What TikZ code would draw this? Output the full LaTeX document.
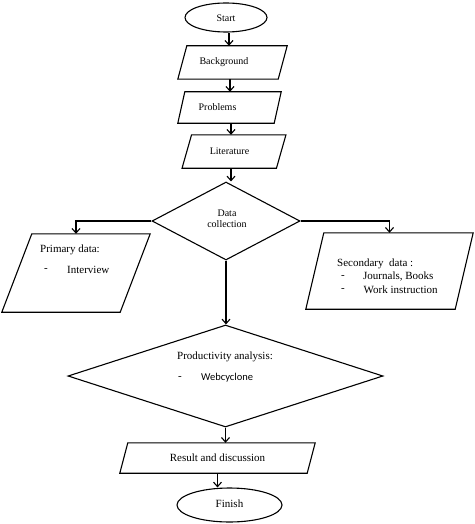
\documentclass[tikz,border=0pt]{standalone}
\usepackage{fontspec}
\setmainfont{Liberation Serif}
\newfontfamily\calfont{Carlito}
\usetikzlibrary{shapes.geometric,arrows.meta,calc}
\begin{document}
\begin{tikzpicture}[x=1pt,y=-1pt,
  line/.style={line width=1.1pt,black},
  arr/.style={line,-{Straight Barb[length=4.5pt,width=8pt,line width=1.1pt]}},
  hold/.style={draw=none,rectangle,inner sep=0pt,minimum width=1pt},
  ell/.style={line,draw,ellipse,inner sep=0pt},
  dia/.style={line,draw,diamond,inner sep=0pt},
  sm/.style={font=\fontsize{10}{11}\selectfont,inner sep=0pt,align=center},
  md/.style={font=\fontsize{11}{12}\selectfont,inner sep=0pt,align=center},
]
\useasboundingbox (0,0) rectangle (474,524);
\fill[white] (0,0) rectangle (474,524);
\coordinate (ax) at (229,0);
% terminals
\node[ell,minimum width=82,minimum height=29] (st) at (226,17.5) {};
\node[ell,minimum width=105,minimum height=34] (fin) at (229.5,505) {};
% parallelogram holders: (name) centre, width at mid-height, height
\node[hold,minimum width=100,minimum height=33] (bg) at (232.5,62.5) {};
\node[hold,minimum width=96,minimum height=31] (pb) at (229.5,107.5) {};
\node[hold,minimum width=94,minimum height=33] (lit) at (234,151.5) {};
\node[hold,minimum width=118,minimum height=78] (pri) at (76,273) {};
\node[hold,minimum width=149,minimum height=76] (sec) at (389.5,271) {};
\node[hold,minimum width=187,minimum height=30] (res) at (217.5,458) {};
\foreach \n/\s in {bg/9,pb/7,lit/9.5,pri/30,sec/18,res/8}{
  \draw[line] ([xshift=-\s/2]\n.south west) -- ([xshift=\s/2]\n.north west)
     -- ([xshift=\s/2]\n.north east) -- ([xshift=-\s/2]\n.south east) -- cycle;
}
% decisions
\node[dia,minimum width=148,minimum height=78] (dc) at (226,221) {};
\node[dia,minimum width=315,minimum height=102] (pa) at (225.5,376) {};
% texts
\node[sm] (tst) at (226,18) {Start};
\node[sm] (tbg) at (224,62) {Background};
\node[sm] (tpb) at (217.5,107) {Problems};
\node[sm] (tlit) at (229.5,151) {Literature};
\node[sm] (tdc) at (227,218.5) {Data\\collection};
\node[md,anchor=west] (tpri) at (40,250) {Primary data:};
\node[md] (tprid) at (46,270) {-};
\node[md,anchor=west] (tpri2) at (67,270) {Interview};
\node[md,anchor=west] (tsec) at (337,264) {Secondary\ \ data :};
\node[md] (tsecd1) at (343,277) {-};
\node[md,anchor=west] (tsec1) at (363,277) {Journals, Books};
\node[md] (tsecd2) at (343,289.5) {-};
\node[md,anchor=west] (tsec2) at (363.5,289.5) {Work instruction};
\node[md,anchor=west] (tpa) at (177,357) {Productivity analysis:};
\node[md] (tpad) at (180,378) {-};
\node[inner sep=0pt,anchor=west,font=\calfont\fontsize{10.5}{12}\selectfont] (tpa2) at (201,378) {Webcyclone};
\node[md] (tres) at (217.5,458) {Result and discussion};
\node[md] (tfin) at (229.5,504) {Finish};
% connectors
\draw[arr] (st.south -| ax) -- (bg.north -| ax);
\draw[arr] ([xshift=1]bg.south -| ax) -- ([xshift=1]pb.north -| ax);
\draw[arr] ([xshift=2]pb.south -| ax) -- ([xshift=2]lit.north -| ax);
\draw[arr] ([xshift=2]lit.south -| ax) -- ([xshift=2]dc.north -| ax);
\draw[arr] (dc.west) -| (pri.north);
\draw[arr] (dc.east) -| (sec.north);
\draw[arr] (dc.south) -- (dc.south |- pa.north);
\draw[arr] (pa.south) -- (pa.south |- res.north);
\draw[arr] (res.north |- res.south) -- (res.north |- fin.north);
\end{tikzpicture}
\end{document}
